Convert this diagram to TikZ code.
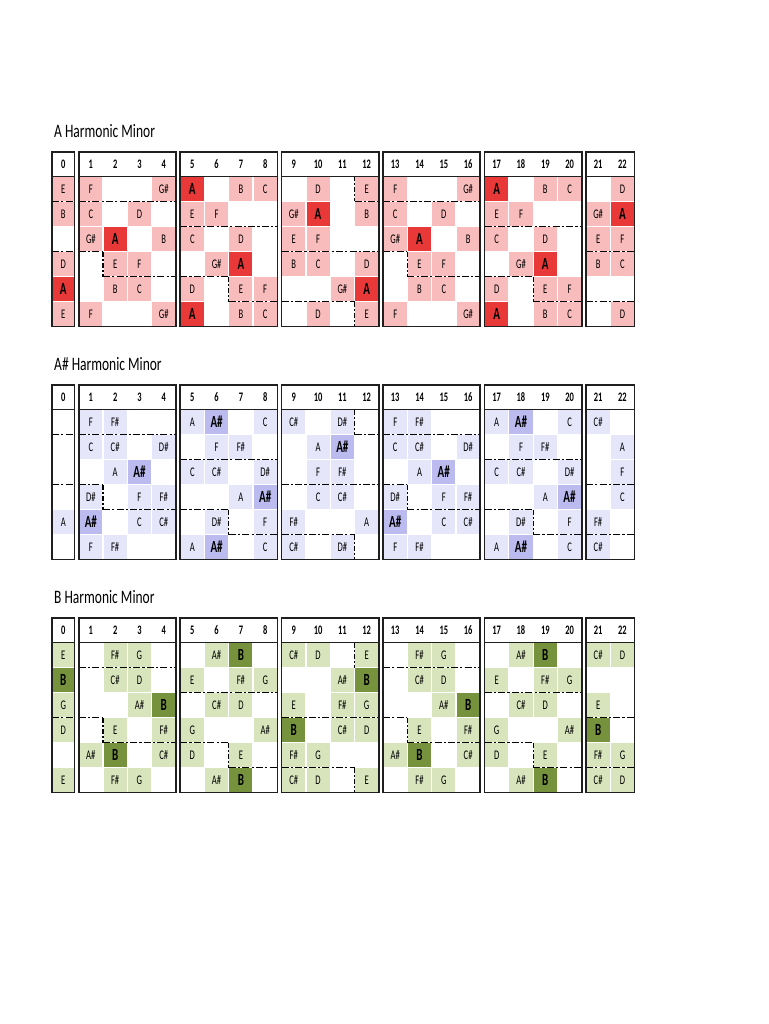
\documentclass[tikz,border=0pt]{standalone}
\usepackage{fontspec}
\setmainfont{Carlito}
\newfontfamily\cellfam[FakeStretch=0.65]{Carlito}
\newfontfamily\titlefam[FakeStretch=0.71]{Carlito}
\newcommand\notefont{\cellfam\fontsize{13.2}{14}\selectfont}
\newcommand\rootfont{\cellfam\bfseries\fontsize{17}{18}\selectfont}
\newcommand\headfont{\cellfam\bfseries\fontsize{13}{14}\selectfont}
\newcommand\ttlfont{\titlefam\fontsize{19}{22}\selectfont}
\definecolor{pinkL}{HTML}{F9BCBC}
\definecolor{redD}{HTML}{E83838}
\definecolor{lavL}{HTML}{E6E6FB}
\definecolor{lavD}{HTML}{BBBBF0}
\definecolor{grnL}{HTML}{D8E4BC}
\definecolor{grnD}{HTML}{76923C}
\pgfmathdeclarefunction{fl}{1}{\begingroup\pgfmathparse{(#1<0.5) ? 52 : (78.7 + floor((#1-1)/4)*101.46 + mod(#1-1,4)*24.3)}\pgfmathsmuggle\pgfmathresult\endgroup}
\pgfmathdeclarefunction{fw}{1}{\begingroup\pgfmathparse{(#1<0.5) ? 22.5 : 24.3}\pgfmathsmuggle\pgfmathresult\endgroup}
\newcommand\hs[4]{\draw[#4] ({#1},{176.5+25*#3+\yo}) -- ({#2},{176.5+25*#3+\yo});}
\newcommand\vs[4]{\draw[#4] ({#1},{176.5+25*#2+\yo}) -- ({#1},{176.5+25*#3+\yo});}
\newcommand\fretboard[5]{%
  \pgfmathsetmacro\yo{233*#1}%
  \node[anchor=base west, inner sep=0, font=\ttlfont] (title#1) at (54,{137.5+\yo}) {#2};
  \foreach \f in {0,...,22} {
    \node[inner sep=0, font=\headfont] (h#1-\f) at ({fl(\f)+fw(\f)/2},{164.3+\yo}) {\f};
  }
  \foreach \r/\f/\n/\k in {#5} {
    \pgfmathsetmacro\cx{fl(\f)+fw(\f)/2}
    \pgfmathsetmacro\cy{176.5+25*\r-12.5+\yo}
    \pgfmathsetmacro\cw{fw(\f)-1.2}
    \if\k d
      \node[cellbox, fill=#4, font=\rootfont, minimum width=\cw] (c#1-\r-\f) at (\cx,\cy) {\n};
    \else
      \node[cellbox, fill=#3, font=\notefont, minimum width=\cw] (c#1-\r-\f) at (\cx,\cy) {\n};
    \fi
  }
  % position boundaries
  \ifnum#1<2 \hs{fl(0)}{fl(0)+fw(0)}{1}{pk}\fi
  \hs{fl(0)}{fl(0)+fw(0)}{3}{pk}
  \hs{fl(1)}{fl(4)+fw(4)}{1}{pk}
  \hs{fl(1)}{fl(2)}{3}{pk}\vs{fl(2)}{3}{4}{pv}\hs{fl(2)}{fl(4)+fw(4)}{4}{pm}
  \hs{fl(5)}{fl(8)+fw(8)}{2}{pm}
  \hs{fl(5)}{fl(7)}{4}{pm}\vs{fl(7)}{4}{5}{pv}\hs{fl(7)}{fl(8)+fw(8)}{5}{pm}
  \vs{fl(12)}{0}{1}{pv}
  \ifnum#1<2 \hs{fl(12)}{fl(12)+fw(12)}{1}{pk}\fi
  \hs{fl(9)}{fl(12)+fw(12)}{3}{pm}
  \hs{fl(9)}{fl(12)}{5}{pm}\vs{fl(12)}{5}{6}{pv}
  \hs{fl(13)}{fl(16)+fw(16)}{1}{pk}
  \hs{fl(13)}{fl(14)}{3}{pk}\vs{fl(14)}{3}{4}{pv}\hs{fl(14)}{fl(16)+fw(16)}{4}{pm}
  \hs{fl(17)}{fl(20)+fw(20)}{2}{pm}
  \hs{fl(17)}{fl(19)}{4}{pm}\vs{fl(19)}{4}{5}{pv}\hs{fl(19)}{fl(20)+fw(20)}{5}{pm}
  \hs{fl(21)}{fl(22)+fw(22)}{3}{pk}
  \hs{fl(21)}{fl(22)+fw(22)}{5}{pm}
  % frames
  \foreach \a/\b in {0/0,1/4,5/8,9/12,13/16,17/20,21/22} {
    \draw[frame] ({fl(\a)},{152+\yo}) rectangle ({fl(\b)+fw(\b)},{326.5+\yo});
    \draw[frame] ({fl(\a)},{176.5+\yo}) -- ({fl(\b)+fw(\b)},{176.5+\yo});
  }
}
\begin{document}
\begin{tikzpicture}[x=1pt,y=-1pt,
  cellbox/.style={rectangle, inner sep=0, minimum height=23.8, text=black},
  frame/.style={line width=1.6pt, draw=black!88},
  pk/.style={line width=1.9pt, dash pattern=on 7pt off 2.2pt on 2.2pt off 2.2pt},
  pm/.style={line width=1.3pt, dash pattern=on 7pt off 2.2pt on 2.2pt off 2.2pt},
  pv/.style={line width=1.1pt, dash pattern=on 5pt off 2pt on 2pt off 2pt}]
\useasboundingbox (0,0) rectangle (768,1024);
\fill[white] (0,0) rectangle (768,1024);
\fretboard{0}{A Harmonic Minor}{pinkL}{redD}{
1/0/E/l, 1/1/F/l, 1/4/G\#/l, 1/5/A/d, 1/7/B/l, 1/8/C/l, 1/10/D/l, 1/12/E/l, 1/13/F/l, 1/16/G\#/l, 1/17/A/d, 1/19/B/l, 1/20/C/l, 1/22/D/l,
2/0/B/l, 2/1/C/l, 2/3/D/l, 2/5/E/l, 2/6/F/l, 2/9/G\#/l, 2/10/A/d, 2/12/B/l, 2/13/C/l, 2/15/D/l, 2/17/E/l, 2/18/F/l, 2/21/G\#/l, 2/22/A/d,
3/1/G\#/l, 3/2/A/d, 3/4/B/l, 3/5/C/l, 3/7/D/l, 3/9/E/l, 3/10/F/l, 3/13/G\#/l, 3/14/A/d, 3/16/B/l, 3/17/C/l, 3/19/D/l, 3/21/E/l, 3/22/F/l,
4/0/D/l, 4/2/E/l, 4/3/F/l, 4/6/G\#/l, 4/7/A/d, 4/9/B/l, 4/10/C/l, 4/12/D/l, 4/14/E/l, 4/15/F/l, 4/18/G\#/l, 4/19/A/d, 4/21/B/l, 4/22/C/l,
5/0/A/d, 5/2/B/l, 5/3/C/l, 5/5/D/l, 5/7/E/l, 5/8/F/l, 5/11/G\#/l, 5/12/A/d, 5/14/B/l, 5/15/C/l, 5/17/D/l, 5/19/E/l, 5/20/F/l,
6/0/E/l, 6/1/F/l, 6/4/G\#/l, 6/5/A/d, 6/7/B/l, 6/8/C/l, 6/10/D/l, 6/12/E/l, 6/13/F/l, 6/16/G\#/l, 6/17/A/d, 6/19/B/l, 6/20/C/l, 6/22/D/l}
\fretboard{1}{A\# Harmonic Minor}{lavL}{lavD}{
1/1/F/l, 1/2/F\#/l, 1/5/A/l, 1/6/A\#/d, 1/8/C/l, 1/9/C\#/l, 1/11/D\#/l, 1/13/F/l, 1/14/F\#/l, 1/17/A/l, 1/18/A\#/d, 1/20/C/l, 1/21/C\#/l,
2/1/C/l, 2/2/C\#/l, 2/4/D\#/l, 2/6/F/l, 2/7/F\#/l, 2/10/A/l, 2/11/A\#/d, 2/13/C/l, 2/14/C\#/l, 2/16/D\#/l, 2/18/F/l, 2/19/F\#/l, 2/22/A/l,
3/2/A/l, 3/3/A\#/d, 3/5/C/l, 3/6/C\#/l, 3/8/D\#/l, 3/10/F/l, 3/11/F\#/l, 3/14/A/l, 3/15/A\#/d, 3/17/C/l, 3/18/C\#/l, 3/20/D\#/l, 3/22/F/l,
4/1/D\#/l, 4/3/F/l, 4/4/F\#/l, 4/7/A/l, 4/8/A\#/d, 4/10/C/l, 4/11/C\#/l, 4/13/D\#/l, 4/15/F/l, 4/16/F\#/l, 4/19/A/l, 4/20/A\#/d, 4/22/C/l,
5/0/A/l, 5/1/A\#/d, 5/3/C/l, 5/4/C\#/l, 5/6/D\#/l, 5/8/F/l, 5/9/F\#/l, 5/12/A/l, 5/13/A\#/d, 5/15/C/l, 5/16/C\#/l, 5/18/D\#/l, 5/20/F/l, 5/21/F\#/l,
6/1/F/l, 6/2/F\#/l, 6/5/A/l, 6/6/A\#/d, 6/8/C/l, 6/9/C\#/l, 6/11/D\#/l, 6/13/F/l, 6/14/F\#/l, 6/17/A/l, 6/18/A\#/d, 6/20/C/l, 6/21/C\#/l}
\fretboard{2}{B Harmonic Minor}{grnL}{grnD}{
1/0/E/l, 1/2/F\#/l, 1/3/G/l, 1/6/A\#/l, 1/7/B/d, 1/9/C\#/l, 1/10/D/l, 1/12/E/l, 1/14/F\#/l, 1/15/G/l, 1/18/A\#/l, 1/19/B/d, 1/21/C\#/l, 1/22/D/l,
2/0/B/d, 2/2/C\#/l, 2/3/D/l, 2/5/E/l, 2/7/F\#/l, 2/8/G/l, 2/11/A\#/l, 2/12/B/d, 2/14/C\#/l, 2/15/D/l, 2/17/E/l, 2/19/F\#/l, 2/20/G/l,
3/0/G/l, 3/3/A\#/l, 3/4/B/d, 3/6/C\#/l, 3/7/D/l, 3/9/E/l, 3/11/F\#/l, 3/12/G/l, 3/15/A\#/l, 3/16/B/d, 3/18/C\#/l, 3/19/D/l, 3/21/E/l,
4/0/D/l, 4/2/E/l, 4/4/F\#/l, 4/5/G/l, 4/8/A\#/l, 4/9/B/d, 4/11/C\#/l, 4/12/D/l, 4/14/E/l, 4/16/F\#/l, 4/17/G/l, 4/20/A\#/l, 4/21/B/d,
5/1/A\#/l, 5/2/B/d, 5/4/C\#/l, 5/5/D/l, 5/7/E/l, 5/9/F\#/l, 5/10/G/l, 5/13/A\#/l, 5/14/B/d, 5/16/C\#/l, 5/17/D/l, 5/19/E/l, 5/21/F\#/l, 5/22/G/l,
6/0/E/l, 6/2/F\#/l, 6/3/G/l, 6/6/A\#/l, 6/7/B/d, 6/9/C\#/l, 6/10/D/l, 6/12/E/l, 6/14/F\#/l, 6/15/G/l, 6/18/A\#/l, 6/19/B/d, 6/21/C\#/l, 6/22/D/l}
\end{tikzpicture}
\end{document}
